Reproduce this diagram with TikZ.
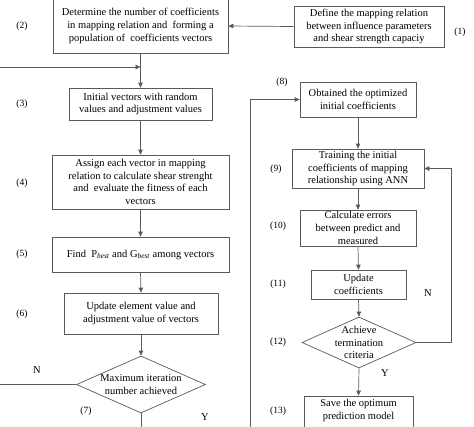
\documentclass[tikz,border=0pt]{standalone}
\usepackage{fontspec}
\setmainfont{Liberation Serif}
\usetikzlibrary{arrows.meta,shapes.geometric}
\definecolor{ln}{HTML}{5A5A5A}
\tikzset{
  box/.style={draw=ln, line width=0.7pt, rectangle, inner sep=1pt, align=center, font=\fontsize{10.5}{12.8}\selectfont},
  dia/.style={draw=ln, line width=0.7pt, diamond, inner sep=0pt},
  txt/.style={align=center, inner sep=0pt, font=\fontsize{10.5}{12.8}\selectfont},
  lab/.style={inner sep=0pt, font=\fontsize{9.5}{11}\selectfont},
  conn/.style={draw=ln, line width=0.7pt},
  arr/.style={conn, -{Triangle[length=5pt,width=4.5pt]}}
}
\begin{document}
\begin{tikzpicture}[x=1pt,y=-1pt]
\useasboundingbox (0,0) rectangle (474,426);
\clip (0,0) rectangle (474,426);
% boxes
\node[box, minimum width=175pt, minimum height=55pt] (b2) at (140.5,26) {Determine the number of coefficients\\in mapping relation and\ \ forming a\\population of\ \ coefficients vectors};
\node[box, minimum width=150pt, minimum height=41pt] (b1) at (369,26.5) {Define the mapping relation\\between influence parameters\\and shear strength capaciy};
\node[box, minimum width=143pt, minimum height=32pt] (b3) at (140.5,104) {Initial vectors with random\\values and adjustment values};
\node[box, minimum width=177pt, minimum height=54pt] (b4) at (140.5,182) {Assign each vector in mapping\\relation to calculate shear strenght\\and\ \ evaluate the fitness of each\\vectors};
\node[box, minimum width=177pt, minimum height=35pt] (b5) at (140.5,254.5) {Find\ \ P\textsubscript{\textit{best}} and G\textsubscript{\textit{best}} among vectors};
\node[box, minimum width=154pt, minimum height=41pt] (b6) at (141,313.5) {Update element value and\\adjustment value of vectors};
\node[dia, minimum width=129pt, minimum height=57pt] (d7) at (141,384.5) {};
\node[txt] at (d7.center) {Maximum iteration\\number achieved};
\node[box, minimum width=116pt, minimum height=35pt] (b8) at (358,99.5) {Obtained the optimized\\initial coefficients};
\node[box, minimum width=132pt, minimum height=39pt] (b9) at (358,168.5) {Training the initial\\coefficients of mapping\\relationship using ANN};
\node[box, minimum width=116pt, minimum height=36pt, inner sep=0pt] (b10) at (358,228) {Calculate errors\\between predict and\\measured};
\node[box, minimum width=95pt, minimum height=29pt] (b11) at (358.5,284.5) {Update\\coefficients};
\node[dia, minimum width=114pt, minimum height=51pt] (d12) at (359,342.5) {};
\node[txt] at (d12.center) {Achieve\\termination\\criteria};
\node[box, minimum width=109pt, minimum height=38pt] (b13) at (358.5,415) {};
\node[txt] at (358.5,410.5) {Save the optimum\\prediction model};
% step labels
\node[lab] at (22,26) {(2)};
\node[lab] at (460,32) {(1)};
\node[lab] at (22,104) {(3)};
\node[lab] at (22,183) {(4)};
\node[lab] at (22,254) {(5)};
\node[lab] at (22,314) {(6)};
\node[lab] at (86,411) {(7)};
\node[lab] at (282,82) {(8)};
\node[lab] at (276,169) {(9)};
\node[lab] at (278,226) {(10)};
\node[lab] at (278,284) {(11)};
\node[lab] at (278,342) {(12)};
\node[lab] at (278,411) {(13)};
\node[txt] at (37,370) {N};
\node[txt] at (205,417) {Y};
\node[txt] at (428,293) {N};
\node[txt] at (385,373) {Y};
% coordinates
\coordinate (j3) at (140.5,67);
\coordinate (lin) at (0,67);
\coordinate (nl) at (0,384.5);
\coordinate (ydown) at (141,430);
\coordinate (rb) at (250,430);
\coordinate (rt) at (250,99.5);
\coordinate (fr) at (451,342.5);
\coordinate (ft) at (451,168.5);
% connectors
\draw[arr] (b1.west) -- (b2.east);
\draw[arr] (b2.south) -- (b3.north);
\draw[arr] (lin) -- (j3);
\draw[arr] (b3.south) -- (b4.north);
\draw[arr] (b4.south) -- (b5.north);
\draw[arr] (b5.south) -- (b6.north);
\draw[arr] (b6.south) -- (d7.north);
\draw[conn] (d7.west) -- (nl);
\draw[conn] (d7.south) -- (ydown);
\draw[arr] (rb) -- (rt) -- (b8.west);
\draw[arr] (b8.south) -- (b9.north);
\draw[arr] (b9.south) -- (b10.north);
\draw[arr] (b10.south) -- (b11.north);
\draw[arr] (b11.south) -- (d12.north);
\draw[arr] (d12.east) -- (fr) -- (ft) -- (b9.east);
\draw[arr] (d12.south) -- (b13.north);
\end{tikzpicture}
\end{document}
